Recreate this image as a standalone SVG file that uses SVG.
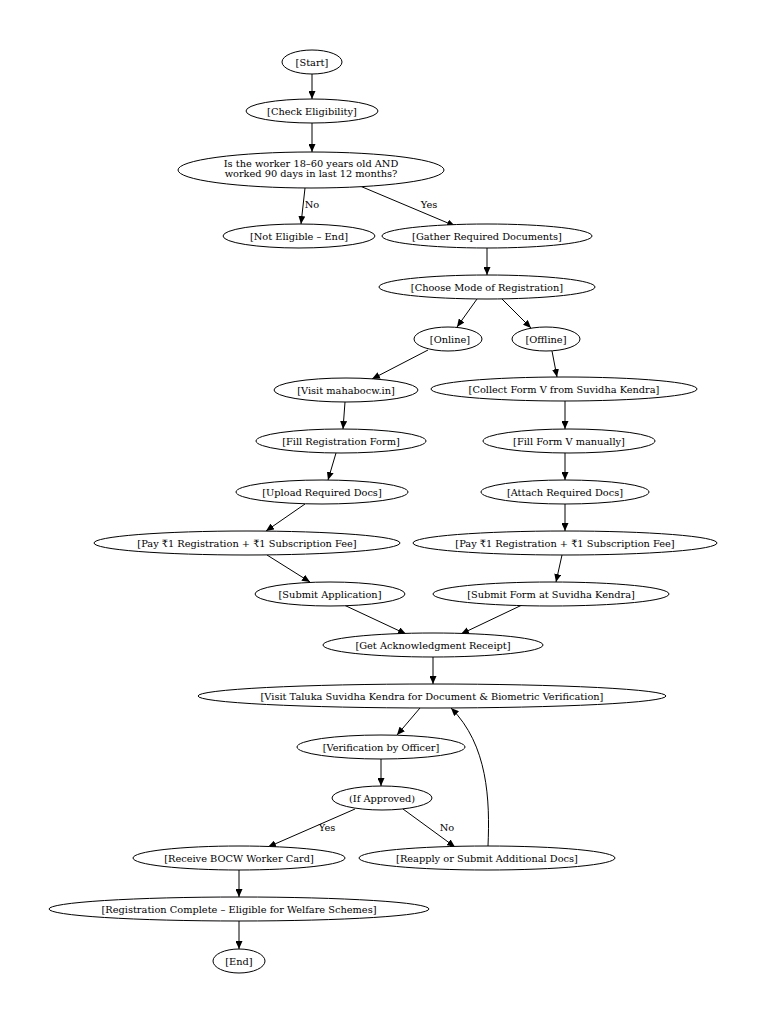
<svg xmlns="http://www.w3.org/2000/svg" width="768" height="1024" viewBox="0 0 768 1024">
<style>
.n ellipse{fill:#fff;stroke:#000;stroke-width:1}
.n text,.lbl{font-family:"DejaVu Serif","Liberation Serif",serif;font-size:9.8px;fill:#000;text-anchor:middle}
.e path{fill:none;stroke:#000;stroke-width:1;marker-end:url(#ah)}
</style>
<defs>
<marker id="ah" markerUnits="userSpaceOnUse" markerWidth="9" markerHeight="7" refX="8" refY="3.5" orient="auto">
<path d="M0,0 L8,3.5 L0,7 z" fill="#000"/>
</marker>
</defs>
<rect width="768" height="1024" fill="#fff"/>
<g id="edges" class="e">
<path d="M312,74 L312,99"/>
<path d="M312,123 L312,152"/>
<path d="M305,188 L301,224"/>
<path d="M360,186 L455,226"/>
<path d="M487,248 L487,275"/>
<path d="M477,299 L457,327"/>
<path d="M502,299 L531,328"/>
<path d="M428,350 L372,379"/>
<path d="M552,351 L557,377"/>
<path d="M345,402 L343,429"/>
<path d="M336,453 L328,480"/>
<path d="M305,504 L266,531"/>
<path d="M267,555 L310,582"/>
<path d="M565,401 L565,429"/>
<path d="M565,453 L565,480"/>
<path d="M565,504 L565,531"/>
<path d="M562,555 L556,582"/>
<path d="M344,605 L406,634"/>
<path d="M522,605 L461,634"/>
<path d="M433,657 L433,684"/>
<path d="M420,708 L397,735"/>
<path d="M381,759 L381,786"/>
<path d="M355,809 L268,847"/>
<path d="M403,809 L455,847"/>
<path d="M488,846 C490,800 488,745 451,708"/>
<path d="M239,870 L239,897"/>
<path d="M239,921 L239,949"/>
<text class="lbl" x="312" y="208">No</text>
<text class="lbl" x="429" y="208">Yes</text>
<text class="lbl" x="327" y="831">Yes</text>
<text class="lbl" x="447" y="831">No</text>
</g>
<g id="start" class="n"><ellipse cx="312" cy="62" rx="30" ry="12"/><text x="312" y="65.5">[Start]</text></g>
<g id="check" class="n"><ellipse cx="312" cy="111" rx="66" ry="12"/><text x="312" y="114.5">[Check Eligibility]</text></g>
<g id="question" class="n"><ellipse cx="311" cy="170" rx="133" ry="18"/><text x="311" y="167">Is the worker 18–60 years old AND</text><text x="311" y="177">worked 90 days in last 12 months?</text></g>
<g id="noteligible" class="n"><ellipse cx="299" cy="236" rx="76" ry="12"/><text x="299" y="239.5">[Not Eligible – End]</text></g>
<g id="gather" class="n"><ellipse cx="487" cy="236" rx="105" ry="12"/><text x="487" y="239.5">[Gather Required Documents]</text></g>
<g id="choose" class="n"><ellipse cx="487" cy="287" rx="108" ry="12"/><text x="487" y="290.5">[Choose Mode of Registration]</text></g>
<g id="online" class="n"><ellipse cx="448" cy="339" rx="34" ry="12"/><text x="450" y="342.5">[Online]</text></g>
<g id="offline" class="n"><ellipse cx="546" cy="339" rx="34" ry="12"/><text x="546" y="342.5">[Offline]</text></g>
<g id="visitweb" class="n"><ellipse cx="346" cy="390" rx="72" ry="12"/><text x="346" y="393.5">[Visit mahabocw.in]</text></g>
<g id="fillreg" class="n"><ellipse cx="341" cy="441" rx="85" ry="12"/><text x="341" y="444.5">[Fill Registration Form]</text></g>
<g id="upload" class="n"><ellipse cx="322" cy="492" rx="86" ry="12"/><text x="322" y="495.5">[Upload Required Docs]</text></g>
<g id="payonline" class="n"><ellipse cx="247" cy="543" rx="153" ry="12"/><text x="247" y="546.5">[Pay ₹1 Registration + ₹1 Subscription Fee]</text></g>
<g id="submitapp" class="n"><ellipse cx="330" cy="594" rx="75" ry="12"/><text x="330" y="597.5">[Submit Application]</text></g>
<g id="collect" class="n"><ellipse cx="564" cy="389" rx="133" ry="12"/><text x="564" y="392.5">[Collect Form V from Suvidha Kendra]</text></g>
<g id="fillv" class="n"><ellipse cx="569" cy="441" rx="86" ry="12"/><text x="569" y="444.5">[Fill Form V manually]</text></g>
<g id="attach" class="n"><ellipse cx="565" cy="492" rx="84" ry="12"/><text x="565" y="495.5">[Attach Required Docs]</text></g>
<g id="payoffline" class="n"><ellipse cx="565" cy="543" rx="152" ry="12"/><text x="565" y="546.5">[Pay ₹1 Registration + ₹1 Subscription Fee]</text></g>
<g id="submitform" class="n"><ellipse cx="551" cy="594" rx="118" ry="12"/><text x="551" y="597.5">[Submit Form at Suvidha Kendra]</text></g>
<g id="ack" class="n"><ellipse cx="433" cy="645" rx="110" ry="12"/><text x="433" y="648.5">[Get Acknowledgment Receipt]</text></g>
<g id="taluka" class="n"><ellipse cx="432" cy="696" rx="234" ry="12"/><text x="432" y="699.5">[Visit Taluka Suvidha Kendra for Document &amp; Biometric Verification]</text></g>
<g id="verify" class="n"><ellipse cx="381" cy="747" rx="84" ry="12"/><text x="381" y="750.5">[Verification by Officer]</text></g>
<g id="approved" class="n"><ellipse cx="382" cy="798" rx="50" ry="12"/><text x="382" y="801.5">(If Approved)</text></g>
<g id="receive" class="n"><ellipse cx="239" cy="858" rx="106" ry="12"/><text x="239" y="861.5">[Receive BOCW Worker Card]</text></g>
<g id="reapply" class="n"><ellipse cx="487" cy="858" rx="128" ry="12"/><text x="487" y="861.5">[Reapply or Submit Additional Docs]</text></g>
<g id="complete" class="n"><ellipse cx="239" cy="909" rx="190" ry="12"/><text x="239" y="912.5">[Registration Complete – Eligible for Welfare Schemes]</text></g>
<g id="end" class="n"><ellipse cx="239" cy="961" rx="26" ry="12"/><text x="239" y="964.5">[End]</text></g>
</svg>
